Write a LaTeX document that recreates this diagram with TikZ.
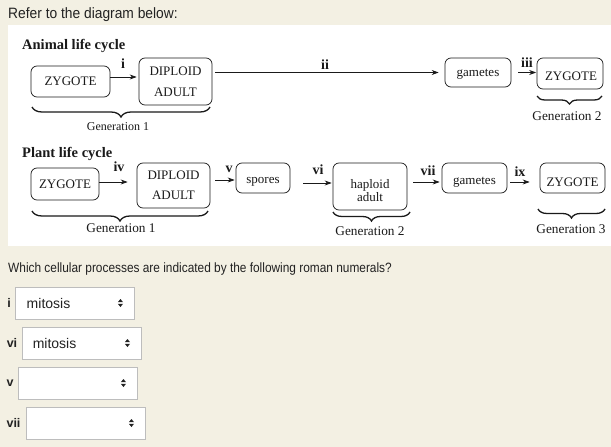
\documentclass[tikz,border=0pt]{standalone}
\usepackage{fontspec}
\usepackage{graphicx}
\setmainfont{Liberation Serif}
\newfontfamily\uisans{Liberation Sans}
\usetikzlibrary{arrows.meta,decorations.pathreplacing,calc}
\definecolor{bgbeige}{HTML}{F3F0E3}
\definecolor{boxgray}{HTML}{BDBDBD}
\definecolor{uitext}{HTML}{222222}
\definecolor{inkcol}{HTML}{1A1A1A}
\newcommand{\lowtext}[2]{\raisebox{-#1}[\height][\depth]{#2}}
\tikzset{
  cellbox/.style={draw=inkcol, line width=0.7pt, rounded corners=6pt, inner sep=0pt, align=center, font=\fontsize{13}{15}\selectfont, text=inkcol},
  arr/.style={draw=inkcol, line width=0.7pt, -{Stealth[length=7pt,width=5pt]}},
  numlbl/.style={font=\bfseries\fontsize{14}{16}\selectfont, text=inkcol, inner sep=0pt},
  heading/.style={font=\bfseries\fontsize{14.5}{17}\selectfont, text=inkcol, inner sep=0pt, anchor=base west},
  genlbl/.style={font=\fontsize{13.3}{15}\selectfont, text=inkcol, inner sep=0pt},
  gbrace/.style={draw=inkcol, line width=1.3pt, decorate, decoration={brace, mirror, amplitude=#1}},
  formbox/.style={draw=boxgray, fill=white, line width=0.9pt, minimum width=119pt, minimum height=32pt, inner sep=0pt},
  formlbl/.style={font=\uisans\bfseries\fontsize{12.5}{14}\selectfont, text=uitext, inner sep=0pt},
  formval/.style={font=\uisans\fontsize{14}{16}\selectfont, text=uitext, inner sep=0pt, anchor=west},
  updn/.pic={\fill[uitext] (-2.6pt,0.8pt) -- (2.6pt,0.8pt) -- (0,4pt) -- cycle;
             \fill[uitext] (-2.6pt,-0.8pt) -- (2.6pt,-0.8pt) -- (0,-4pt) -- cycle;}
}
\begin{document}
\begin{tikzpicture}[x=1pt,y=-1pt]
\useasboundingbox (0,0) rectangle (611,447);
\fill[bgbeige] (0,0) rectangle (611,447);
\fill[white] (8,25) rectangle (611,246);

\node[anchor=base west, inner sep=0pt, font=\uisans\fontsize{15}{18}\selectfont, text=uitext] (title) at (8,19) {\scalebox{0.92}[1]{Refer to the diagram below:}};

% Animal life cycle
\node[heading] (ahead) at (22,49) {Animal life cycle};
\node[cellbox, minimum width=79pt, minimum height=31pt] (z1) at (70.5,81.5) {ZYGOTE};
\node[cellbox, minimum width=73pt, minimum height=47pt, font=\fontsize{13}{21}\selectfont] (d1) at (175.5,81.5) {DIPLOID\\ADULT};
\node[cellbox, minimum width=66pt, minimum height=29pt] (g1) at (478,72.5) {\lowtext{2pt}{gametes}};
\node[cellbox, minimum width=66pt, minimum height=31pt] (z2) at (570,73.5) {\lowtext{3pt}{\hspace*{2pt}ZYGOTE}};

\draw[arr, shorten >=2pt] ([yshift=4.5pt]z1.east) -- ([yshift=4.5pt]z1.east -| d1.west);
\node[numlbl] (li) at (123,64) {i};
\draw[arr, shorten <=3pt, shorten >=6pt] (g1.west -| d1.east) -- (g1.west);
\node[numlbl] (lii) at (325,65) {ii};
\draw[arr, shorten <=7pt, shorten >=0.5pt] (g1.east) -- (g1.east -| z2.west);
\node[numlbl] (liii) at (527,63) {iii};

\draw[gbrace=10pt] (32,107) -- (210,107);
\node[genlbl, font=\fontsize{12}{14}\selectfont] (ag1) at (118,127) {Generation 1};
\draw[gbrace=8pt] (537,96) -- (602,96);
\node[genlbl] (ag2) at (567,116) {Generation 2};

% Plant life cycle
\node[heading] (phead) at (22,157) {Plant life cycle};
\node[cellbox, minimum width=68pt, minimum height=32pt] (z3) at (65,184) {ZYGOTE};
\node[cellbox, minimum width=73pt, minimum height=45pt, font=\fontsize{13}{20}\selectfont] (d2) at (173.5,185.5) {DIPLOID\\ADULT};
\node[cellbox, minimum width=54pt, minimum height=30pt] (sp) at (263,178) {\lowtext{4pt}{spores}};
\node[cellbox, minimum width=74pt, minimum height=47pt, font=\fontsize{13}{13}\selectfont] (ha) at (370,186.5) {\lowtext{4pt}{\shortstack{haploid\\[-1pt]adult}}};
\node[cellbox, minimum width=65pt, minimum height=30pt] (g2) at (474.5,178) {\lowtext{4pt}{gametes}};
\node[cellbox, minimum width=65pt, minimum height=30pt] (z4) at (572.5,178) {\lowtext{4pt}{ZYGOTE}};

\draw[arr, shorten >=9pt] ([yshift=2pt]z3.east) -- ([yshift=2pt]z3.east -| d2.west);
\node[numlbl] (liv) at (119,167) {iv};
\draw[arr, shorten <=5pt, shorten >=1pt] ([yshift=-2pt]sp.west -| d2.east) -- ([yshift=-2pt]sp.west);
\node[numlbl] (lv) at (229,169) {v};
\draw[arr, shorten <=13pt, shorten >=1pt] ([yshift=-5pt]sp.east) -- ([yshift=-5pt]sp.east -| ha.west);
\node[numlbl] (lvi) at (318,170) {vi};
\draw[arr, shorten <=6pt, shorten >=2pt] ([yshift=-4pt]g2.west -| ha.east) -- ([yshift=-4pt]g2.west);
\node[numlbl] (lvii) at (428,171) {vii};
\draw[arr, shorten <=3pt, shorten >=10pt] ([yshift=-4pt]g2.east) -- ([yshift=-4pt]g2.east -| z4.west);
\node[numlbl] (lix) at (520,172) {ix};

\draw[gbrace=10pt] (32,211) -- (208,211);
\node[genlbl] (pg1) at (121,228) {Generation 1};
\draw[gbrace=9pt] (333,212) -- (410,212);
\node[genlbl] (pg2) at (370,231) {Generation 2};
\draw[gbrace=9pt] (538,209) -- (605,209);
\node[genlbl] (pg3) at (571,229) {Generation 3};

% Question
\node[anchor=base west, inner sep=0pt, font=\uisans\fontsize{13.5}{16}\selectfont, text=uitext] (quest) at (8,272) {\scalebox{0.88}[1]{Which cellular processes are indicated by the following roman numerals?}};

\node[formbox] (f1) at (74.5,303) {};
\node[formbox] (f2) at (81.5,343) {};
\node[formbox] (f3) at (77.5,383) {};
\node[formbox] (f4) at (85.5,423) {};

\node[formlbl] (q1) at (9,303) {i};
\node[formlbl] (q2) at (12,343) {vi};
\node[formlbl] (q3) at (10,383) {v};
\node[formlbl] (q4) at (13.5,423) {vii};

\node[formval] (m1) at ([xshift=12pt]f1.west) {mitosis};
\node[formval] (m2) at ([xshift=11pt]f2.west) {mitosis};

\pic at ([xshift=-14pt]f1.east) {updn};
\pic at ([xshift=-14pt]f2.east) {updn};
\pic at ([xshift=-14pt]f3.east) {updn};
\pic at ([xshift=-14pt]f4.east) {updn};
\end{tikzpicture}
\end{document}
